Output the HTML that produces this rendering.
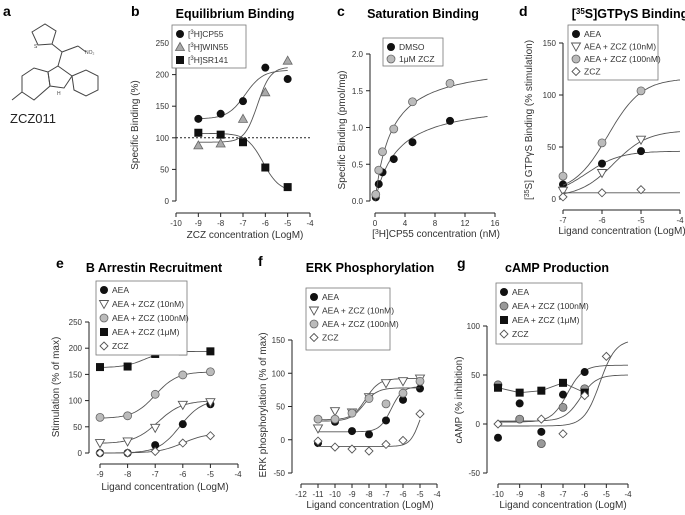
<!DOCTYPE html>
<html><head><meta charset="utf-8">
<style>
body{margin:0;background:#fff;}
svg{display:block;font-family:"Liberation Sans",Arial,sans-serif;}
.t{font-weight:bold;font-size:12.5px;text-anchor:middle;}
.pl{font-weight:bold;font-size:14px;}
.tk{font-size:8px;fill:#333;}
.al{font-size:10px;fill:#333;text-anchor:middle;}
.lg{font-size:8.5px;fill:#333;}
</style></head>
<body>
<svg id="fig" width="685" height="515" viewBox="0 0 685 515">
<g stroke="#444" stroke-width="1" fill="none">
<text x="3" y="16" class="pl" stroke="none" fill="#000">a</text>
<polygon points="32,32 45,24 56,31 52,44 38,45"/>
<line x1="52" y1="44" x2="62" y2="52"/>
<line x1="62" y1="52" x2="78" y2="46"/><line x1="78" y1="46" x2="86" y2="52"/>
<line x1="62" y1="52" x2="58" y2="66"/>
<polygon points="58,66 72,76 64,88 50,86 48,72"/>
<polygon points="48,72 34,68 22,76 22,92 34,100 50,86"/>
<line x1="22" y1="92" x2="12" y2="100"/>
<polygon points="72,76 86,70 98,76 98,90 86,96 74,90"/>
<text x="85" y="54" font-size="5" stroke="none" fill="#444">NO₂</text>
<text x="57" y="95" font-size="5" stroke="none" fill="#444">H</text>
<text x="34" y="48" font-size="5" stroke="none" fill="#444">S</text>
<text x="10" y="123" font-size="13" stroke="none" fill="#222">ZCZ011</text>
</g>
</svg>
<script>
// ---- data ----
const bX=[-9,-8,-7,-6,-5];
const bCP55=[130,138,158,211,193];
const bWIN55=[88,91,130,172,222];
const bSR141=[108,105,93,53,22];
const cX=[0.1,0.5,1,2.5,5,10];
const cDMSO=[0.05,0.23,0.39,0.57,0.80,1.09];
const cZCZ=[0.09,0.42,0.67,0.98,1.35,1.60];
const dX=[-7,-6,-5];
const dAEA=[14,34,46];
const dZ10=[8,25,57];
const dZ100=[22,54,104];
const dZCZ=[2,6,9];
const eX=[-9,-8,-7,-6,-5];
const eAEA=[0,0,15,55,93];
const eZ10=[19,22,48,92,97];
const eZ100=[68,71,112,149,155];
const eZ1u=[164,165,189,194,194];
const eZCZ=[0,0,3,19,33];
const fX=[-11,-10,-9,-8,-7,-6,-5];
const fAEA=[-5,27,13,8,29,60,77];
const fZ10=[17,43,41,64,85,88,92];
const fZ100=[31,31,40,62,54,70,88];
const fZCZ=[-2,-11,-14,-17,-7,-1,39];
const gX=[-10,-9,-8,-7,-6];
const gAEA=[-14,21,-8,30,53];
const gZ100=[40,5,-20,17,36];
const gZ1u=[37,32,34,42,32];
const gZX=[-10,-8,-7,-6,-5];
const gZCZ=[0,5,-10,29,69];

const NS="http://www.w3.org/2000/svg";
const svg=document.getElementById('fig');
function mk(tag,attrs,parent){const e=document.createElementNS(NS,tag);for(const k in attrs)e.setAttribute(k,attrs[k]);(parent||svg).appendChild(e);return e;}
function sig(b,t,ec,h){return x=>b+(t-b)/(1+Math.pow(10,(ec-x)*h));}
function hyp(B,K){return x=>B*x/(K+x);}
function marker(g,type,x,y){
  let e;
  if(type==='circ'){e=mk('circle',{cx:x,cy:y,r:4,fill:'#111'},g);}
  else if(type==='gcirc'){e=mk('circle',{cx:x,cy:y,r:4,fill:'#bbb',stroke:'#666','stroke-width':0.8},g);}
  else if(type==='dgcirc'){e=mk('circle',{cx:x,cy:y,r:4,fill:'#999',stroke:'#555','stroke-width':0.8},g);}
  else if(type==='sq'){e=mk('rect',{x:x-4,y:y-4,width:8,height:8,fill:'#111'},g);}
  else if(type==='tri'){e=mk('polygon',{points:`${x},${y-4.5} ${x+4.5},${y+3.5} ${x-4.5},${y+3.5}`,fill:'#aaa',stroke:'#666','stroke-width':0.8},g);}
  else if(type==='dtri'){e=mk('polygon',{points:`${x-4.5},${y-3.5} ${x+4.5},${y-3.5} ${x},${y+4.5}`,fill:'#fff',stroke:'#555','stroke-width':0.9},g);}
  else if(type==='dia'){e=mk('polygon',{points:`${x},${y-4} ${x+4},${y} ${x},${y+4} ${x-4},${y}`,fill:'#fff',stroke:'#555','stroke-width':0.9},g);}
  return e;
}
function panel(p){
  const g=mk('g',{});
  
  
  const sx=v=>p.px[0]+(v-p.xd[0])/(p.xd[1]-p.xd[0])*(p.px[1]-p.px[0]);
  const sy=v=>p.py[0]+(v-p.yd[0])/(p.yd[1]-p.yd[0])*(p.py[1]-p.py[0]);
  const lab=mk('text',{x:p.lx,y:p.ly,class:'pl'},g);lab.textContent=p.id;
  
  const t=mk('text',{x:p.tx,y:p.ty,class:'t'},g);t.innerHTML=p.title;
  
  const ya=mk('g',{},g);
  const yx=p.px[0]-(p.yoff||0);
  mk('line',{x1:yx,x2:yx,y1:sy(p.yticks[0]),y2:sy(p.yticks[p.yticks.length-1]),stroke:'#222','stroke-width':1},ya);
  p.yticks.forEach((v,i)=>{const y=sy(v);mk('line',{x1:yx-4,x2:yx,y1:y,y2:y,stroke:'#222'},ya);
    const tx=mk('text',{x:yx-7,y:y+3,class:'tk','text-anchor':'end'},ya);tx.textContent=p.ylabs[i];});
  const xa=mk('g',{},g);
  mk('line',{x1:sx(p.xticks[0]),x2:sx(p.xticks[p.xticks.length-1]),y1:p.xay,y2:p.xay,stroke:'#222'},xa);
  p.xticks.forEach(v=>{const x=sx(v);mk('line',{x1:x,x2:x,y1:p.xay,y2:p.xay+4,stroke:'#222'},xa);
    const tx=mk('text',{x:x,y:p.xay+13,class:'tk','text-anchor':'middle'},xa);tx.textContent=String(v);});
  const xt=mk('text',{x:p.xlx,y:p.xly,class:'al'},g);xt.innerHTML=p.xlabel;
  
  const yt=mk('text',{x:0,y:0,class:'al',transform:`translate(${p.ylx},${p.yly}) rotate(-90)`},g);yt.innerHTML=p.ylabel;
  
  if(p.dash!==undefined){const d=mk('line',{x1:p.px[0],x2:p.px[1],y1:sy(p.dash),y2:sy(p.dash),stroke:'#222','stroke-dasharray':'2,2'},g);
    }
  p.series.forEach(s=>{
    const sg=mk('g',{},g);
    if(s.fit){let pts=[];const a=s.range[0],b=s.range[1];for(let i=0;i<=60;i++){const x=a+(b-a)*i/60;pts.push(sx(x).toFixed(1)+','+sy(s.fit(x)).toFixed(1));}
      mk('polyline',{points:pts.join(' '),fill:'none',stroke:'#555','stroke-width':0.9},sg);}
    if(s.poly){mk('polyline',{points:s.x.map((x,i)=>sx(x)+','+sy(s.y[i])).join(' '),fill:'none',stroke:'#555','stroke-width':0.9},sg);}
    s.x.forEach((x,i)=>{const m=marker(sg,s.m,sx(x),sy(s.y[i]));
      });
  });
  const L=p.leg;const lg=mk('g',{},g);
  mk('rect',{x:L.x,y:L.y,width:L.w,height:L.h,fill:'#fff',stroke:'#777','stroke-width':0.8},lg);
  p.series.forEach((s,i)=>{const y=L.y+9+i*L.dy;
    const e=mk('g',{},lg);
    marker(e,s.m,L.x+8,y);const tx=mk('text',{x:L.x+16,y:y+3,class:'lg'},e);tx.innerHTML=s.label;});
}
const logT=[-10,-9,-8,-7,-6,-5,-4];
panel({id:'b',title:'Equilibrium Binding',tx:235,ty:18,lx:131,ly:16,xd:[-10,-4],px:[176,310],yd:[0,250],py:[201,43],yoff:0,
 yticks:[0,50,100,150,200,250],ylabs:['0','50','100','150','200','250'],xticks:logT,xay:213,
 xlabel:'ZCZ concentration (LogM)',xlx:245,xly:238,ylabel:'Specific Binding (%)',ylx:138,yly:125,dash:100,
 leg:{x:172,y:25,w:74,h:43,dy:13},
 series:[
  {name:'cp55',label:'[<tspan font-size="6" dy="-3">3</tspan><tspan dy="3">H]CP55</tspan>',m:'circ',x:bX,y:bCP55,fit:sig(130,207,-6.9,1.1),range:[-9,-5]},
  {name:'win55',label:'[<tspan font-size="6" dy="-3">3</tspan><tspan dy="3">H]WIN55</tspan>',m:'tri',x:bX,y:bWIN55,fit:sig(93,212,-6.35,1.5),range:[-9,-5]},
  {name:'sr141',label:'[<tspan font-size="6" dy="-3">3</tspan><tspan dy="3">H]SR141</tspan>',m:'sq',x:bX,y:bSR141,fit:sig(107,15,-6.1,1.2),range:[-9,-5]}]});
panel({id:'c',title:'Saturation Binding',tx:423,ty:18,lx:337,ly:16,xd:[0,16],px:[375,495],yd:[0,2],py:[201,54],yoff:5,
 yticks:[0,0.5,1,1.5,2],ylabs:['0.0','0.5','1.0','1.5','2.0'],xticks:[0,4,8,12,16],xay:213,
 xlabel:'[<tspan font-size="7" dy="-3">3</tspan><tspan dy="3">H]CP55 concentration (nM)</tspan>',xlx:436,xly:237,ylabel:'Specific Binding (pmol/mg)',ylx:345,yly:130,
 leg:{x:383,y:38,w:60,h:28,dy:12},
 series:[
  {name:'dmso',label:'DMSO',m:'circ',x:cX,y:cDMSO,fit:hyp(1.38,3.0),range:[0,15]},
  {name:'zcz',label:'1μM ZCZ',m:'gcirc',x:cX,y:cZCZ,fit:hyp(1.9,2.2),range:[0,15]}]});
panel({id:'d',title:'[<tspan font-size="8" dy="-4">35</tspan><tspan dy="4">S]GTPγS Binding</tspan>',tx:630,ty:18,lx:519,ly:16,xd:[-7,-4],px:[563,680],yd:[0,150],py:[199,43],yoff:0,
 yticks:[0,50,100,150],ylabs:['0','50','100','150'],xticks:[-7,-6,-5,-4],xay:210,
 xlabel:'Ligand concentration (LogM)',xlx:622,xly:234,ylabel:'[<tspan font-size="7" dy="-3">35</tspan><tspan dy="3">S] GTPγS Binding (% stimulation)</tspan>',ylx:532,yly:120,
 leg:{x:568,y:25,w:90,h:55,dy:12.5},
 series:[
  {name:'aea',label:'AEA',m:'circ',x:dX,y:dAEA,fit:sig(3,46,-6.4,1),range:[-7,-4]},
  {name:'aea-zcz-10nm',label:'AEA + ZCZ (10nM)',m:'dtri',x:dX,y:dZ10,fit:sig(2,66,-5.7,1),range:[-7,-4]},
  {name:'aea-zcz-100nm',label:'AEA + ZCZ (100nM)',m:'gcirc',x:dX,y:dZ100,fit:sig(6,116,-5.85,1),range:[-7,-4]},
  {name:'zcz',label:'ZCZ',m:'dia',x:dX,y:dZCZ,fit:x=>6,range:[-7,-4]}]});
panel({id:'e',title:'B Arrestin Recruitment',tx:154,ty:272,lx:56,ly:268,xd:[-9,-4],px:[100,238],yd:[0,250],py:[453,322],yoff:11,
 yticks:[0,50,100,150,200,250],ylabs:['0','50','100','150','200','250'],xticks:[-9,-8,-7,-6,-5,-4],xay:464,
 xlabel:'Ligand concentration (LogM)',xlx:165,xly:490,ylabel:'Stimulation (% of max)',ylx:59,yly:387,
 leg:{x:96,y:281,w:91,h:74,dy:14},
 series:[
  {name:'aea',label:'AEA',m:'circ',x:eX,y:eAEA,fit:sig(0,102,-6.1,1.1),range:[-9,-5]},
  {name:'aea-zcz-10nm',label:'AEA + ZCZ (10nM)',m:'dtri',x:eX,y:eZ10,fit:sig(18,100,-6.9,1),range:[-9,-5]},
  {name:'aea-zcz-100nm',label:'AEA + ZCZ (100nM)',m:'gcirc',x:eX,y:eZ100,fit:sig(66,155,-7.0,1.1),range:[-9,-5]},
  {name:'aea-zcz-1um',label:'AEA + ZCZ (1μM)',m:'sq',x:eX,y:eZ1u,fit:sig(163,194,-7.4,1.2),range:[-9,-5]},
  {name:'zcz',label:'ZCZ',m:'dia',x:eX,y:eZCZ,fit:sig(0,38,-6.0,1),range:[-9,-5]}]});
panel({id:'f',title:'ERK Phosphorylation',tx:370,ty:272,lx:258,ly:266,xd:[-12,-4],px:[301,437],yd:[-50,150],py:[473,340],yoff:9,
 yticks:[-50,0,50,100,150],ylabs:['-50','0','50','100','150'],xticks:[-12,-11,-10,-9,-8,-7,-6,-5,-4],xay:484,
 xlabel:'Ligand concentration (LogM)',xlx:370,xly:508,ylabel:'ERK phosphorylation (% of max)',ylx:266,yly:405,
 leg:{x:306,y:288,w:84,h:62,dy:13.5},
 series:[
  {name:'aea',label:'AEA',m:'circ',x:fX,y:fAEA,fit:sig(12,80,-6.7,1.3),range:[-11,-5]},
  {name:'aea-zcz-10nm',label:'AEA + ZCZ (10nM)',m:'dtri',x:fX,y:fZ10,fit:sig(30,92,-8.2,1.1),range:[-11,-5]},
  {name:'aea-zcz-100nm',label:'AEA + ZCZ (100nM)',m:'gcirc',x:fX,y:fZ100,fit:sig(28,78,-8.3,1.1),range:[-11,-5]},
  {name:'zcz',label:'ZCZ',m:'dia',x:fX,y:fZCZ,fit:sig(-10,70,-5.0,1.5),range:[-11,-5]}]});
panel({id:'g',title:'cAMP Production',tx:557,ty:272,lx:457,ly:268,xd:[-10,-4],px:[498,628],yd:[-50,100],py:[473,326],yoff:11,
 yticks:[-50,0,50,100],ylabs:['-50','0','50','100'],xticks:logT,xay:484,
 xlabel:'Ligand concentration (LogM)',xlx:563,xly:508,ylabel:'cAMP (% inhibition)',ylx:462,yly:400,
 leg:{x:496,y:283,w:86,h:61,dy:14},
 series:[
  {name:'aea',label:'AEA',m:'circ',x:gX,y:gAEA,fit:sig(2,60,-6.8,1.2),range:[-10,-4]},
  {name:'aea-zcz-100nm',label:'AEA + ZCZ (100nM)',m:'dgcirc',x:gX,y:gZ100,fit:sig(3,50,-6.2,1.2),range:[-10,-4]},
  {name:'aea-zcz-1um',label:'AEA + ZCZ (1μM)',m:'sq',x:gX,y:gZ1u,poly:true},
  {name:'zcz',label:'ZCZ',m:'dia',x:gZX,y:gZCZ,fit:sig(-2,86,-5.3,1.2),range:[-10,-4]}]});
</script>
</body></html>
